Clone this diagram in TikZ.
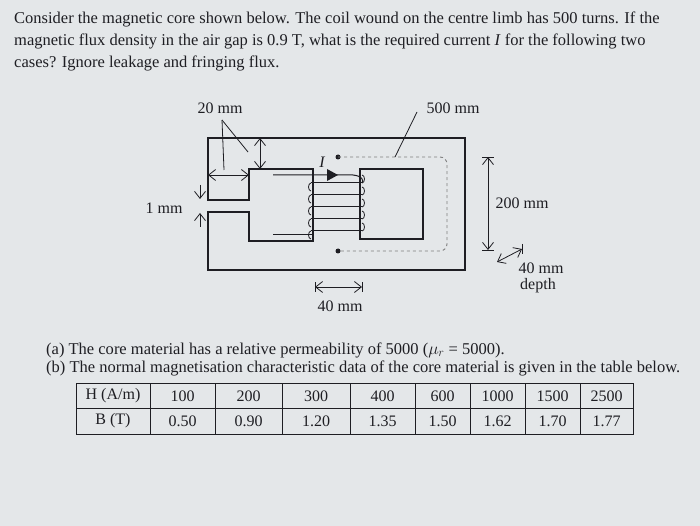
\documentclass[tikz,border=0pt]{standalone}
\usepackage{fontspec}
\setmainfont{Liberation Serif}
\usetikzlibrary{arrows.meta}
\definecolor{bg}{RGB}{228,231,233}
\definecolor{ink}{RGB}{30,30,35}
\begin{document}
\begin{tikzpicture}[x=1pt,y=-1pt,
  line/.style={draw=ink,line width=1.6pt},
  thin/.style={draw=ink,line width=0.8pt},
  dim/.style={draw=ink,line width=0.8pt,{Straight Barb[length=7pt,width=11pt]}-{Straight Barb[length=7pt,width=11pt]}},
  dimone/.style={draw=ink,line width=0.8pt,-{Straight Barb[length=7pt,width=11pt]}},
  txt/.style={text=ink,font=\fontsize{16.5}{18}\selectfont,inner sep=0pt},
  lbl/.style={text=ink,font=\fontsize{16}{18}\selectfont,inner sep=1pt}]
\fill[bg] (0,0) rectangle (700,526);
\useasboundingbox (0,0) rectangle (700,526);
% question text
\node[txt,anchor=base west] (q1) at (14,24) {Consider the magnetic core shown below. The coil wound on the centre limb has 500 turns. If the};
\node[txt,anchor=base west] (q2) at (14,46) {magnetic flux density in the air gap is 0.9 T, what is the required current \textit{I} for the following two};
\node[txt,anchor=base west] (q3) at (14,68) {cases? Ignore leakage and fringing flux.};
% core
\draw[line] (208,138) -- (465,138) -- (465,270) -- (208,270) -- (208,212) -- (249,212) -- (249,241) -- (313,241) -- (313,169) -- (249,169) -- (249,200) -- (208,200) -- cycle;
\draw[line] (360,169) rectangle (423,239);
% coil
\draw[thin,line width=1pt] (273,175) -- (353,175) .. controls (362,176) and (364,180) .. (362,183);
\draw[thin,line width=1pt] (273,235) -- (313,235);
\foreach \i in {0,...,4}{
  \draw[thin,line width=1pt] (311,{183+\i*12}) -- (362,{183+\i*12});
  \draw[thin] (311,{183+\i*12}) arc[start angle=-90,end angle=-270,x radius=2.5,y radius=4];
  \draw[thin] (362,{183+\i*12}) arc[start angle=-90,end angle=90,x radius=2.5,y radius=-4];
}
\fill[ink] (327,169) -- (338,175) -- (327,181) -- cycle;
\node[lbl,font=\itshape\fontsize{16}{18}\selectfont] (I) at (322,162) {I};
% flux path
\fill[ink] (338,157) circle (2.5) coordinate (d1);
\fill[ink] (338,251) circle (2.5) coordinate (d2);
\draw[thin,dashed,gray,line width=0.9pt] (d1) -- (440,157) to[out=0,in=90] (447,164) -- (447,244) to[out=-90,in=0] (440,251) -- (d2);
% 20 mm
\node[lbl] (l20) at (220,108) {20 mm};
\draw[thin] (222,120) -- (224,170);
\draw[thin] (222,120) -- (248,152);
\draw[dim] (208,175) -- (249,175);
\draw[dim] (260,138) -- (260,169);
% 500 mm
\node[lbl] (l500) at (453,108) {500 mm};
\draw[thin] (417,112) -- (395,157);
% 1 mm
\node[lbl] (l1) at (164,208) {1 mm};
\draw[dimone] (200,185) -- (200,199);
\draw[dimone] (200,227) -- (200,213);
% 200 mm
\draw[dim] (488,157) -- (488,250);
\draw[thin] (482,157) -- (494,157);
\draw[thin] (482,250) -- (494,250);
\node[lbl] (l200) at (522,203) {200 mm};
% depth
\draw[dim] (497,262) -- (522,249);
\draw[thin] (522,244) -- (522,254);
\node[lbl] (l40d) at (541,268) {40 mm};
\node[lbl] (ldep) at (538,286) {depth};
% 40 mm
\draw[dim] (315,287) -- (362,287);
\draw[thin] (315,282) -- (315,292);
\draw[thin] (362,282) -- (362,292);
\node[lbl] (l40) at (340,306) {40 mm};
% parts
\node[txt,anchor=base west] (pa) at (46,354) {(a) The core material has a relative permeability of 5000 ($\mu_r$ = 5000).};
\node[txt,anchor=base west] (pb) at (46,372) {(b) The normal magnetisation characteristic data of the core material is given in the table below.};
% table
\draw[thin] (76,383) rectangle (633,434);
\draw[thin] (76,408) -- (633,408);
\foreach \x in {150,215,282,350,415,470,525,580}{\draw[thin] (\x,383) -- (\x,434);}
\foreach \a/\b/\t in {76/150/{H (A/m)},150/215/100,215/282/200,282/350/300,350/415/400,415/470/600,470/525/1000,525/580/1500,580/633/2500}{
  \node[lbl] at ({(\a+\b)/2},396) {\t};}
\foreach \a/\b/\t in {76/150/B (T),150/215/0.50,215/282/0.90,282/350/1.20,350/415/1.35,415/470/1.50,470/525/1.62,525/580/1.70,580/633/1.77}{
  \node[lbl] at ({(\a+\b)/2},421) {\t};}
\end{tikzpicture}
\end{document}
